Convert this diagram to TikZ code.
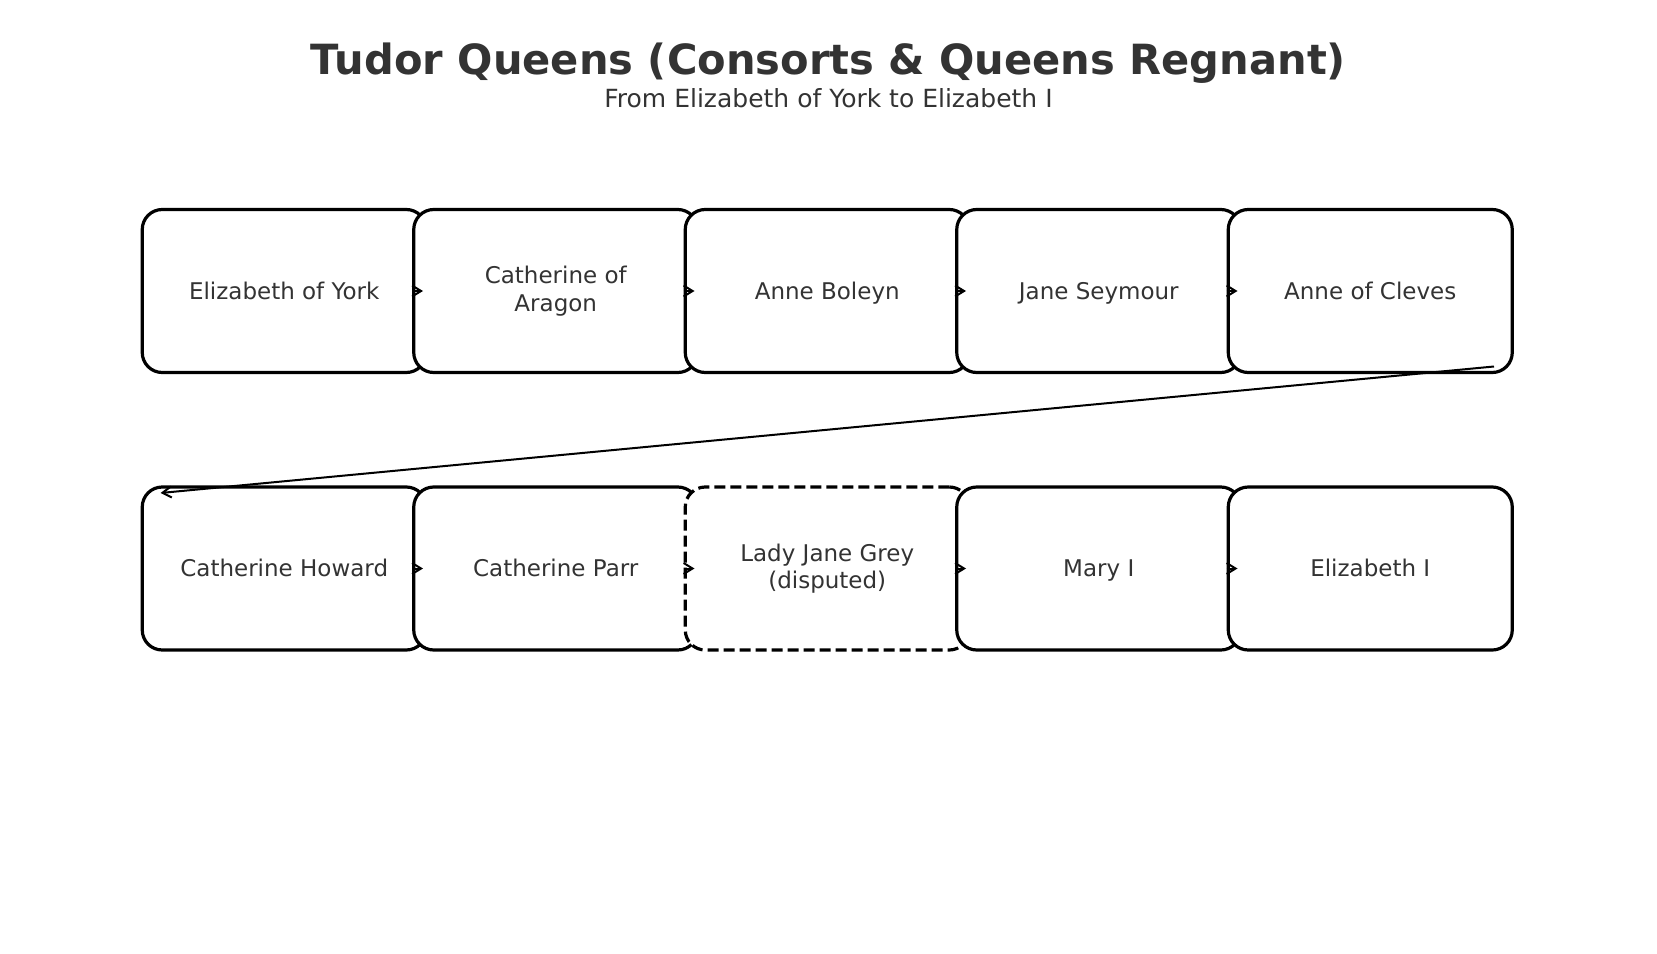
\documentclass[tikz,border=0pt]{standalone}
\usepackage{fontspec}
\setmainfont{DejaVu Sans}
\usepackage{xcolor}
\usetikzlibrary{shapes,arrows.meta,positioning}
\definecolor{textgray}{HTML}{333333}

\begin{document}
\begin{tikzpicture}[
    x=1pt, y=-1pt,
    box/.style={rectangle, rounded corners=20pt, draw, line width=3.2pt, fill=white, text=textgray, minimum width=284pt, minimum height=163pt, outer xsep=-18.25pt, outer ysep=-6pt, align=center, font=\fontsize{23}{27.5}\selectfont, execute at begin node={\vphantom{g}\rule{0pt}{21.5pt}}},
    disputed/.style={box, dash pattern=on 11pt off 5pt},
    arrow/.style={-{Straight Barb[length=9pt,width=11pt]}, line width=2pt},
    link/.style={arrow, shorten <=4pt, shorten >=9pt}
]
\useasboundingbox (0,0) rectangle (1657,953);

\node[text=textgray, font=\fontsize{41.6}{48}\selectfont\bfseries] (title) at (828.5,63) {Tudor Queens (Consorts \& Queens Regnant)};
\node[text=textgray, font=\fontsize{25}{29}\selectfont] (subtitle) at (828.5,98) {From Elizabeth of York to Elizabeth I};

\node[box] (york) at (284.25,291) {Elizabeth of York};
\node[box, right=24pt of york] (aragon) {Catherine of\\Aragon};
\node[box, right=24pt of aragon] (boleyn) {Anne Boleyn};
\node[box, right=24pt of boleyn] (seymour) {Jane Seymour};
\node[box, right=24pt of seymour] (cleves) {Anne of Cleves};

\node[box, below=126.5pt of york] (howard) {Catherine Howard};
\node[box, right=24pt of howard] (parr) {Catherine Parr};
\node[disputed, right=24pt of parr] (grey) {Lady Jane Grey\\(disputed)};
\node[box, right=24pt of grey] (mary) {Mary I};
\node[box, right=24pt of mary] (elizabeth) {Elizabeth I};

\draw[link] (york) -- (aragon);
\draw[link] (aragon) -- (boleyn);
\draw[link] (boleyn) -- (seymour);
\draw[link] (seymour) -- (cleves);
\draw[arrow] (cleves.south east) -- (howard.north west);
\draw[link] (howard) -- (parr);
\draw[link] (parr) -- (grey);
\draw[link] (grey) -- (mary);
\draw[link] (mary) -- (elizabeth);
\end{tikzpicture}
\end{document}
